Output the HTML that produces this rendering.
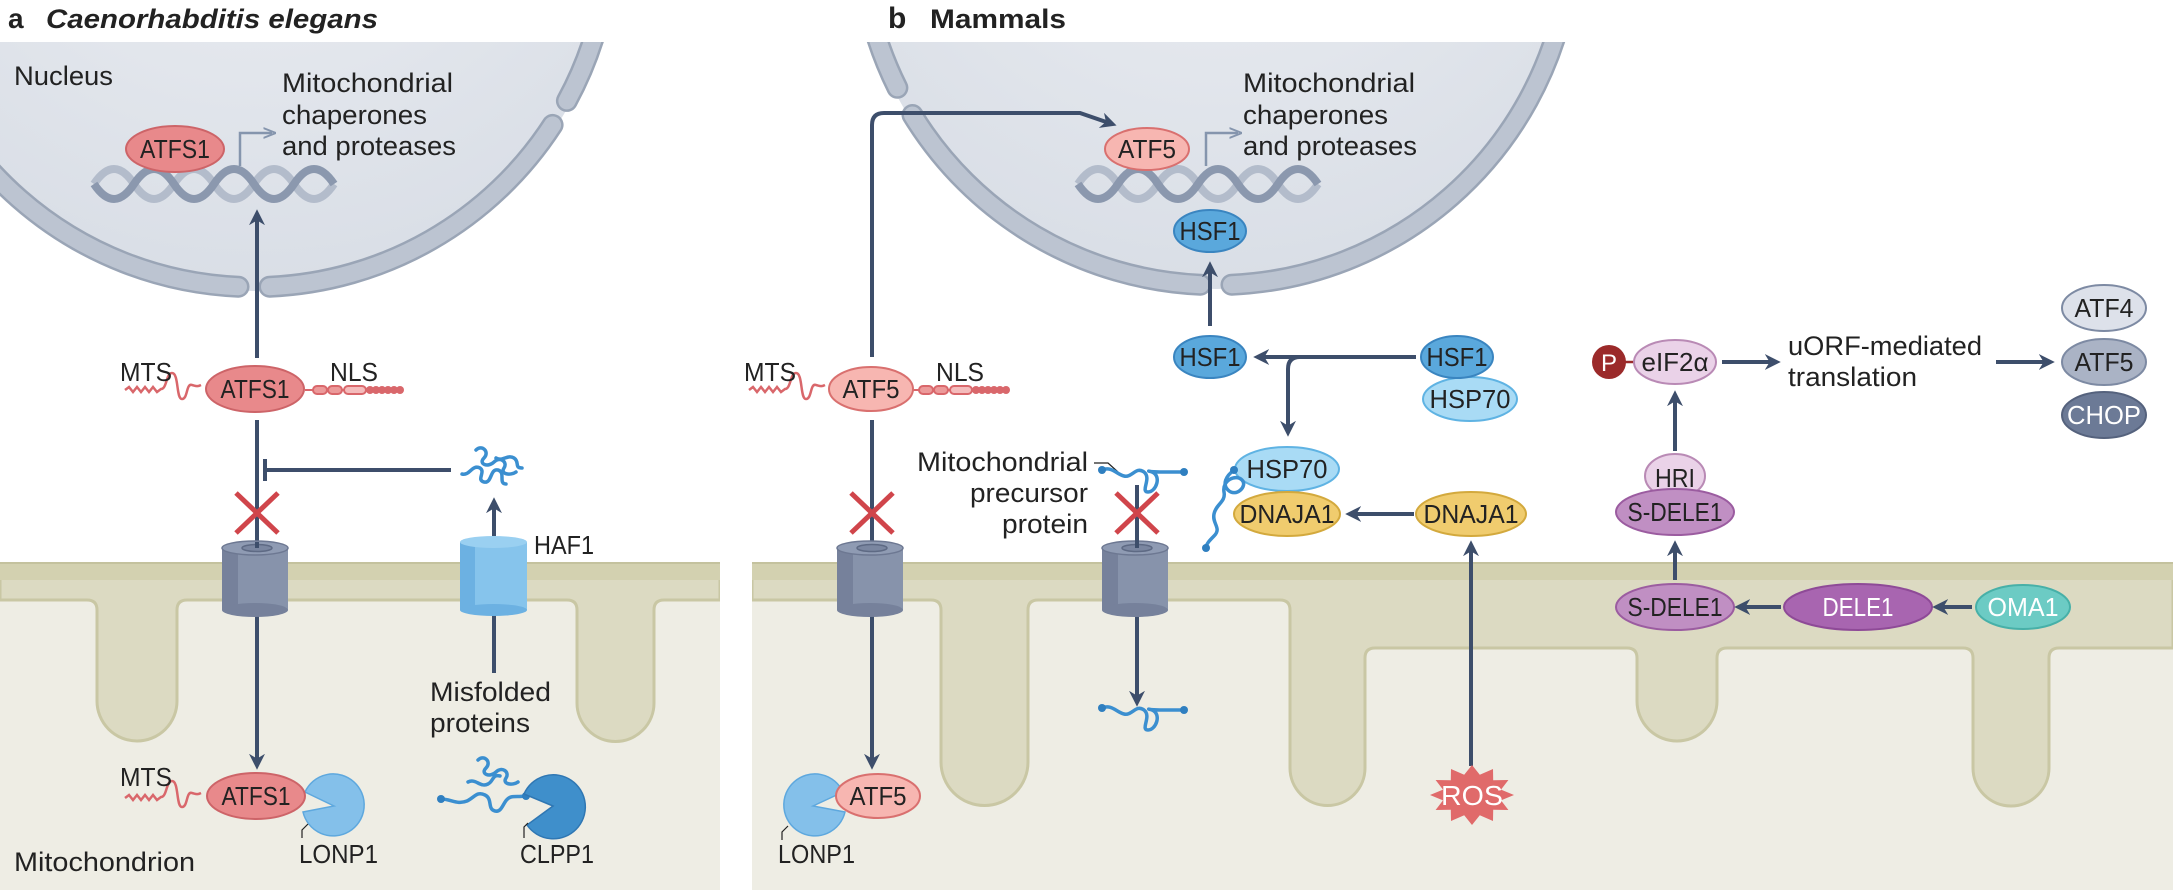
<!DOCTYPE html>
<html><head><meta charset="utf-8"><style>
html,body{margin:0;padding:0;background:#fff}
svg{display:block}
text{font-family:"Liberation Sans",sans-serif;fill:#222}
.l{font-size:27px}
.e{font-size:26px}
</style></head><body>
<svg width="2173" height="890" viewBox="0 0 2173 890" xmlns="http://www.w3.org/2000/svg">
<defs>
<marker id="ah" viewBox="0 0 10 10" refX="7" refY="5" markerWidth="4" markerHeight="4" orient="auto" markerUnits="strokeWidth"><path d="M0,0 L10,5 L0,10 L3,5z" fill="#3d4e6b"/></marker>
<marker id="ag" viewBox="0 0 10 10" refX="7" refY="5" markerWidth="5" markerHeight="5" orient="auto" markerUnits="strokeWidth"><path d="M0,1 L10,5 L0,9" fill="none" stroke="#8595ad" stroke-width="1.6"/></marker>
<clipPath id="ca"><rect x="0" y="42" width="720" height="848"/></clipPath>
<clipPath id="cb"><rect x="752" y="42" width="1421" height="848"/></clipPath>
<radialGradient id="ng" cx="0.5" cy="0.3" r="0.7"><stop offset="0" stop-color="#eef0f4"/><stop offset="1" stop-color="#d9dee6"/></radialGradient>
</defs>

<text x="8" y="28" style="font-size:28px;font-weight:bold">a</text>
<text x="46" y="28" style="font-size:27px;font-weight:bold;font-style:italic" textLength="332" lengthAdjust="spacingAndGlyphs">Caenorhabditis elegans</text>
<text x="888" y="28" style="font-size:30px;font-weight:bold">b</text>
<text x="930" y="28" style="font-size:27px;font-weight:bold" textLength="136" lengthAdjust="spacingAndGlyphs">Mammals</text>

<!-- ===== PANEL A ===== -->
<g clip-path="url(#ca)">
<circle cx="254" cy="-69" r="360" fill="url(#ng)"/>
<g fill="none" stroke-linecap="round">
<path d="M238.5,286.7 A356,356 0 0 1 -96.6,-7.2 M269.5,286.7 A356,356 0 0 0 552.6,124.9 M566.9,100.9 A356,356 0 0 0 604.6,-7.2" stroke="#9aa5b6" stroke-width="22"/>
<path d="M238.5,286.7 A356,356 0 0 1 -96.6,-7.2 M269.5,286.7 A356,356 0 0 0 552.6,124.9 M566.9,100.9 A356,356 0 0 0 604.6,-7.2" stroke="#bcc4d1" stroke-width="17"/>
</g>
<rect x="0" y="562" width="720" height="328" fill="#eeede4"/>
<path d="M0,578 H720 V600 H664 Q654,600 654,610 V703 A38.5,38.5 0 0 1 577,703 V610 Q577,600 567,600 H187 Q177,600 177,610 V701 A40,40 0 0 1 97,701 V610 Q97,600 87,600 H0 Z" fill="#dcdac2" stroke="#c9c7a4" stroke-width="3"/>
<rect x="0" y="562" width="720" height="18" fill="#d3d1b0"/>
<line x1="0" y1="563" x2="720" y2="563" stroke="#c4c29e" stroke-width="2"/>
</g>

<g fill="none" stroke-width="8">
<path d="M94,184 Q114,154 134,184 T174,184 T214,184 T254,184 T294,184 T334,184" stroke="#b3bccb"/>
<path d="M94,184 Q114,214 134,184 T174,184 T214,184 T254,184 T294,184 T334,184" stroke="#8b98ae"/>
</g>
<path d="M240,166 V133 H272" fill="none" stroke="#8595ad" stroke-width="2.5" marker-end="url(#ag)"/>
<ellipse cx="175" cy="149" rx="49" ry="23" fill="#e8898b" stroke="#cd6468" stroke-width="2"/>
<text class="e" x="175" y="158" text-anchor="middle" textLength="70" lengthAdjust="spacingAndGlyphs">ATFS1</text>
<text class="l" x="14" y="85" textLength="99" lengthAdjust="spacingAndGlyphs">Nucleus</text>
<text class="l" x="282" y="92" textLength="171" lengthAdjust="spacingAndGlyphs">Mitochondrial</text>
<text class="l" x="282" y="124" textLength="145" lengthAdjust="spacingAndGlyphs">chaperones</text>
<text class="l" x="282" y="155" textLength="174" lengthAdjust="spacingAndGlyphs">and proteases</text>

<line x1="257" y1="358" x2="257" y2="214" stroke="#3d4e6b" stroke-width="4" marker-end="url(#ah)"/>
<line x1="257" y1="420" x2="257" y2="765" stroke="#3d4e6b" stroke-width="4" marker-end="url(#ah)"/>
<line x1="266" y1="470" x2="451" y2="470" stroke="#3d4e6b" stroke-width="4"/>
<line x1="265" y1="459" x2="265" y2="481" stroke="#3d4e6b" stroke-width="4"/>

<path d="M125,390 l4,-3 l4,5 l4,-5 l4,5 l4,-5 l4,5 l4,-5 l4,5 l4,-3 c6,0 5,-16 11,-16 c7,0 4,26 10,26 c6,0 4,-16 10,-14 c4,1 5,2 9,0" fill="none" stroke="#d9676b" stroke-width="2.5"/>
<g stroke="#d9676b" stroke-width="2" fill="#ec9a9a">
<line x1="305" y1="390" x2="402" y2="390"/>
<rect x="313" y="386" width="14" height="8" rx="4"/><rect x="328" y="386" width="14" height="8" rx="4"/><rect x="344" y="386" width="22" height="8" rx="4" fill="#f4bcbc"/>
</g>
<g fill="#d9676b"><circle cx="370" cy="390" r="4"/><circle cx="376" cy="390" r="4"/><circle cx="382" cy="390" r="4"/><circle cx="388" cy="390" r="4"/><circle cx="394" cy="390" r="4"/><circle cx="400" cy="390" r="4"/></g>
<ellipse cx="255" cy="389" rx="49" ry="23" fill="#e8898b" stroke="#cd6468" stroke-width="2"/>
<text class="e" x="255" y="398" text-anchor="middle" textLength="69" lengthAdjust="spacingAndGlyphs">ATFS1</text>
<text class="e" x="120" y="381" textLength="52" lengthAdjust="spacingAndGlyphs">MTS</text>
<text class="e" x="330" y="381" textLength="48" lengthAdjust="spacingAndGlyphs">NLS</text>

<g stroke="#d0454b" stroke-width="5"><line x1="236" y1="493" x2="278" y2="533"/><line x1="278" y1="493" x2="236" y2="533"/></g>

<rect x="222" y="548" width="66" height="62" fill="#8793ab"/>
<rect x="222" y="548" width="16" height="62" fill="#76819b"/>
<ellipse cx="255" cy="610" rx="33" ry="7" fill="#76819b"/>
<ellipse cx="255" cy="548" rx="33" ry="7" fill="#8f9bb3" stroke="#6d7892" stroke-width="1.5"/>
<ellipse cx="257" cy="548" rx="15" ry="3.5" fill="#7a86a0" stroke="#5e6a84" stroke-width="1.5"/>
<line x1="257" y1="548" x2="257" y2="542" stroke="#3d4e6b" stroke-width="4"/>

<line x1="494" y1="536" x2="494" y2="502" stroke="#3d4e6b" stroke-width="4" marker-end="url(#ah)"/>
<line x1="494" y1="612" x2="494" y2="673" stroke="#3d4e6b" stroke-width="4"/>
<rect x="460" y="542" width="67" height="68" fill="#86c4ec"/>
<rect x="460" y="542" width="15" height="68" fill="#6cb1e2"/>
<ellipse cx="493.5" cy="610" rx="33.5" ry="6" fill="#6cb1e2"/>
<ellipse cx="493.5" cy="542" rx="33.5" ry="6" fill="#9ad0f1"/>
<text class="e" x="534" y="554" textLength="60" lengthAdjust="spacingAndGlyphs">HAF1</text>
<g fill="none" stroke="#3b8fd0" stroke-width="3.5" stroke-linecap="round">
<path d="M462,474 c8,2 10,-10 18,-6 c6,4 -4,12 4,14 c8,2 6,-14 14,-12 c8,2 0,14 8,14"/>
<path d="M476,450 c6,-6 14,2 8,8 c-6,6 4,10 10,4 c6,-6 14,0 10,6 c-4,6 6,8 12,4"/>
<path d="M496,458 c6,4 12,-4 18,0 c6,4 0,10 8,10"/>
</g>
<text class="l" x="430" y="701" textLength="121" lengthAdjust="spacingAndGlyphs">Misfolded</text>
<text class="l" x="430" y="732" textLength="100" lengthAdjust="spacingAndGlyphs">proteins</text>
<g fill="none" stroke="#3b8fd0" stroke-width="3.5" stroke-linecap="round">
<path d="M441,799 c10,0 16,6 26,2 c8,-4 10,-10 18,-6 c8,4 2,14 10,16 c8,2 8,-12 16,-14 c4,-1 8,0 14,-1"/>
<path d="M478,760 c6,-6 14,2 8,8 c-6,6 4,10 10,4 c6,-6 14,0 10,6 c-4,6 6,8 12,4"/>
<path d="M468,782 c8,-4 12,6 20,2 c6,-3 4,-10 12,-8"/>
</g>
<circle cx="441" cy="799" r="4" fill="#2f7fc0"/><circle cx="526" cy="796" r="4" fill="#2f7fc0"/>
<path d="M553,806 L524,794 A32,32 0 1 1 527,825 Z" fill="#3f8fcb" stroke="#2f77b3" stroke-width="1.5"/>
<text class="e" x="520" y="863" textLength="74" lengthAdjust="spacingAndGlyphs">CLPP1</text>
<path d="M528,823 L524,827 V838" fill="none" stroke="#222" stroke-width="1.2"/>

<path d="M125,798 l4,-3 l4,5 l4,-5 l4,5 l4,-5 l4,5 l4,-5 l4,5 l4,-3 c6,0 5,-16 11,-16 c7,0 4,26 10,26 c6,0 4,-16 10,-14 c4,1 5,2 9,0" fill="none" stroke="#d9676b" stroke-width="2.5"/>
<path d="M334,806 L305,792 A31,31 0 1 1 303,812 Z" fill="#84c0ea" stroke="#5ea8de" stroke-width="1.5"/>
<ellipse cx="256" cy="796" rx="49" ry="23" fill="#e8898b" stroke="#cd6468" stroke-width="2"/>
<text class="e" x="256" y="805" text-anchor="middle" textLength="69" lengthAdjust="spacingAndGlyphs">ATFS1</text>
<text class="e" x="120" y="786" textLength="52" lengthAdjust="spacingAndGlyphs">MTS</text>
<path d="M308,824 L302,830 V838" fill="none" stroke="#222" stroke-width="1.2"/>
<text class="e" x="299" y="863" textLength="79" lengthAdjust="spacingAndGlyphs">LONP1</text>
<text class="l" x="14" y="871" textLength="181" lengthAdjust="spacingAndGlyphs">Mitochondrion</text>

<!-- ===== PANEL B ===== -->
<g clip-path="url(#cb)">
<circle cx="1216" cy="-71" r="360" fill="url(#ng)"/>
<g fill="none" stroke-linecap="round">
<path d="M1200.5,284.7 A356,356 0 0 1 912.5,115 M897.4,87.8 A356,356 0 0 1 865.4,-9.2 M1231.5,284.7 A356,356 0 0 0 1566.6,-9.2" stroke="#9aa5b6" stroke-width="22"/>
<path d="M1200.5,284.7 A356,356 0 0 1 912.5,115 M897.4,87.8 A356,356 0 0 1 865.4,-9.2 M1231.5,284.7 A356,356 0 0 0 1566.6,-9.2" stroke="#bcc4d1" stroke-width="17"/>
</g>
<rect x="752" y="562" width="1421" height="328" fill="#eeede4"/>
<path d="M752,578 H2173 V648 H2059 Q2049,648 2049,658 V768 A38,38 0 0 1 1973,768 V658 Q1973,648 1963,648 H1727 Q1717,648 1717,658 V701 A40,40 0 0 1 1637,701 V658 Q1637,648 1627,648 H1375 Q1365,648 1365,658 V768 A37.5,37.5 0 0 1 1290,768 V610 Q1290,600 1280,600 H1038 Q1028,600 1028,610 V762 A43.5,43.5 0 0 1 941,762 V610 Q941,600 931,600 H752 Z" fill="#dcdac2" stroke="#c9c7a4" stroke-width="3"/>
<rect x="752" y="562" width="1421" height="18" fill="#d3d1b0"/>
<line x1="752" y1="563" x2="2173" y2="563" stroke="#c4c29e" stroke-width="2"/>
</g>

<g fill="none" stroke-width="8">
<path d="M1078,184 Q1098,154 1118,184 T1158,184 T1198,184 T1238,184 T1278,184 T1318,184" stroke="#b3bccb"/>
<path d="M1078,184 Q1098,214 1118,184 T1158,184 T1198,184 T1238,184 T1278,184 T1318,184" stroke="#8b98ae"/>
</g>
<path d="M1206,166 V133 H1238" fill="none" stroke="#8595ad" stroke-width="2.5" marker-end="url(#ag)"/>
<path d="M872,357 V125 Q872,113 884,113 H1080 L1112,124" fill="none" stroke="#3d4e6b" stroke-width="4" marker-end="url(#ah)"/>
<ellipse cx="1147" cy="149" rx="42" ry="21" fill="#f7b6b1" stroke="#d9706f" stroke-width="2"/>
<text class="e" x="1147" y="158" text-anchor="middle" textLength="58" lengthAdjust="spacingAndGlyphs">ATF5</text>
<text class="l" x="1243" y="92" textLength="172" lengthAdjust="spacingAndGlyphs">Mitochondrial</text>
<text class="l" x="1243" y="124" textLength="145" lengthAdjust="spacingAndGlyphs">chaperones</text>
<text class="l" x="1243" y="155" textLength="174" lengthAdjust="spacingAndGlyphs">and proteases</text>

<line x1="1210" y1="326" x2="1210" y2="266" stroke="#3d4e6b" stroke-width="4" marker-end="url(#ah)"/>
<ellipse cx="1210" cy="231" rx="36" ry="21" fill="#5aa8dc" stroke="#3a85c0" stroke-width="2"/>
<text class="e" x="1210" y="240" text-anchor="middle" textLength="61" lengthAdjust="spacingAndGlyphs">HSF1</text>
<line x1="1416" y1="357" x2="1258" y2="357" stroke="#3d4e6b" stroke-width="4" marker-end="url(#ah)"/>
<path d="M1300,357 Q1288,357 1288,369 V432" fill="none" stroke="#3d4e6b" stroke-width="4" marker-end="url(#ah)"/>
<ellipse cx="1210" cy="357" rx="36" ry="21" fill="#5aa8dc" stroke="#3a85c0" stroke-width="2"/>
<text class="e" x="1210" y="366" text-anchor="middle" textLength="61" lengthAdjust="spacingAndGlyphs">HSF1</text>
<ellipse cx="1470" cy="399" rx="47" ry="22" fill="#a9dbf5" stroke="#5fb3e3" stroke-width="2"/>
<text class="e" x="1470" y="408" text-anchor="middle" textLength="81" lengthAdjust="spacingAndGlyphs">HSP70</text>
<ellipse cx="1457" cy="357" rx="36" ry="21" fill="#5aa8dc" stroke="#3a85c0" stroke-width="2"/>
<text class="e" x="1457" y="366" text-anchor="middle" textLength="61" lengthAdjust="spacingAndGlyphs">HSF1</text>

<ellipse cx="1287" cy="469" rx="52" ry="22" fill="#a9dbf5" stroke="#5fb3e3" stroke-width="2"/>
<text class="e" x="1287" y="478" text-anchor="middle" textLength="81" lengthAdjust="spacingAndGlyphs">HSP70</text>
<ellipse cx="1287" cy="514" rx="53" ry="22" fill="#f0cc6e" stroke="#d3a93d" stroke-width="2"/>
<text class="e" x="1287" y="523" text-anchor="middle" textLength="95" lengthAdjust="spacingAndGlyphs">DNAJA1</text>
<path d="M1234,470 c-8,6 -12,14 -6,20 c8,8 20,-4 14,-10 c-6,-6 -20,0 -18,12 c2,10 -8,12 -10,22 c-2,10 8,14 0,22 c-4,4 -8,8 -8,12" fill="none" stroke="#3b8fd0" stroke-width="3.5" stroke-linecap="round"/>
<circle cx="1234" cy="470" r="4" fill="#2f7fc0"/><circle cx="1206" cy="548" r="4" fill="#2f7fc0"/>
<line x1="1414" y1="514" x2="1350" y2="514" stroke="#3d4e6b" stroke-width="4" marker-end="url(#ah)"/>
<ellipse cx="1471" cy="514" rx="55" ry="22" fill="#f0cc6e" stroke="#d3a93d" stroke-width="2"/>
<text class="e" x="1471" y="523" text-anchor="middle" textLength="95" lengthAdjust="spacingAndGlyphs">DNAJA1</text>
<line x1="1471" y1="766" x2="1471" y2="545" stroke="#3d4e6b" stroke-width="4" marker-end="url(#ah)"/>
<polygon points="1514,795 1501,800.4 1508.4,810 1493.2,809.8 1493,821 1479.8,815.3 1472,825 1464.2,815.3 1451,821 1450.8,809.8 1435.6,810 1443,800.4 1430,795 1443,789.6 1435.6,780 1450.8,780.2 1451,769 1464.2,774.7 1472,765 1479.8,774.7 1493,769 1493.2,780.2 1508.4,780 1501,789.6" fill="#e06a6a"/>
<text x="1472" y="805" text-anchor="middle" style="font-size:28px;fill:#fff" textLength="62" lengthAdjust="spacingAndGlyphs">ROS</text>

<line x1="872" y1="420" x2="872" y2="765" stroke="#3d4e6b" stroke-width="4" marker-end="url(#ah)"/>
<path d="M749,390 l4,-3 l4,5 l4,-5 l4,5 l4,-5 l4,5 l4,-5 l4,5 l4,-3 c6,0 5,-16 11,-16 c7,0 4,26 10,26 c6,0 4,-16 10,-14 c4,1 5,2 9,0" fill="none" stroke="#d9676b" stroke-width="2.5"/>
<g stroke="#d9676b" stroke-width="2" fill="#ec9a9a">
<line x1="912" y1="390" x2="1008" y2="390"/>
<rect x="919" y="386" width="14" height="8" rx="4"/><rect x="934" y="386" width="14" height="8" rx="4"/><rect x="950" y="386" width="22" height="8" rx="4" fill="#f4bcbc"/>
</g>
<g fill="#d9676b"><circle cx="976" cy="390" r="4"/><circle cx="982" cy="390" r="4"/><circle cx="988" cy="390" r="4"/><circle cx="994" cy="390" r="4"/><circle cx="1000" cy="390" r="4"/><circle cx="1006" cy="390" r="4"/></g>
<ellipse cx="871" cy="389" rx="42" ry="22" fill="#f7b6b1" stroke="#d9706f" stroke-width="2"/>
<text class="e" x="871" y="398" text-anchor="middle" textLength="57" lengthAdjust="spacingAndGlyphs">ATF5</text>
<text class="e" x="744" y="381" textLength="52" lengthAdjust="spacingAndGlyphs">MTS</text>
<text class="e" x="936" y="381" textLength="48" lengthAdjust="spacingAndGlyphs">NLS</text>
<g stroke="#d0454b" stroke-width="5"><line x1="851" y1="493" x2="893" y2="533"/><line x1="893" y1="493" x2="851" y2="533"/></g>
<rect x="837" y="548" width="66" height="62" fill="#8793ab"/>
<rect x="837" y="548" width="16" height="62" fill="#76819b"/>
<ellipse cx="870" cy="610" rx="33" ry="7" fill="#76819b"/>
<ellipse cx="870" cy="548" rx="33" ry="7" fill="#8f9bb3" stroke="#6d7892" stroke-width="1.5"/>
<ellipse cx="872" cy="548" rx="15" ry="3.5" fill="#7a86a0" stroke="#5e6a84" stroke-width="1.5"/>
<path d="M813,806 L843,792 A31,31 0 1 0 845,812 Z" fill="#84c0ea" stroke="#5ea8de" stroke-width="1.5"/>
<ellipse cx="878" cy="796" rx="42" ry="22" fill="#f7b6b1" stroke="#d9706f" stroke-width="2"/>
<text class="e" x="878" y="805" text-anchor="middle" textLength="57" lengthAdjust="spacingAndGlyphs">ATF5</text>
<path d="M788,826 L782,832 V840" fill="none" stroke="#222" stroke-width="1.2"/>
<text class="e" x="778" y="863" textLength="77" lengthAdjust="spacingAndGlyphs">LONP1</text>

<text class="l" x="1088" y="471" text-anchor="end" textLength="171" lengthAdjust="spacingAndGlyphs">Mitochondrial</text>
<text class="l" x="1088" y="502" text-anchor="end" textLength="118" lengthAdjust="spacingAndGlyphs">precursor</text>
<text class="l" x="1088" y="533" text-anchor="end" textLength="86" lengthAdjust="spacingAndGlyphs">protein</text>
<path d="M1094,463 H1108 L1118,472" fill="none" stroke="#222" stroke-width="1.2"/>
<line x1="1137" y1="485" x2="1137" y2="702" stroke="#3d4e6b" stroke-width="4" marker-end="url(#ah)"/>
<g stroke="#d0454b" stroke-width="5"><line x1="1116" y1="493" x2="1158" y2="533"/><line x1="1158" y1="493" x2="1116" y2="533"/></g>
<rect x="1102" y="548" width="66" height="62" fill="#8793ab"/>
<rect x="1102" y="548" width="16" height="62" fill="#76819b"/>
<ellipse cx="1135" cy="610" rx="33" ry="7" fill="#76819b"/>
<ellipse cx="1135" cy="548" rx="33" ry="7" fill="#8f9bb3" stroke="#6d7892" stroke-width="1.5"/>
<ellipse cx="1137" cy="548" rx="15" ry="3.5" fill="#7a86a0" stroke="#5e6a84" stroke-width="1.5"/>
<line x1="1137" y1="548" x2="1137" y2="540" stroke="#3d4e6b" stroke-width="4"/>
<g fill="none" stroke="#3b8fd0" stroke-width="3.5" stroke-linecap="round">
<path d="M1102,470 c10,-4 14,4 22,6 c8,2 12,-10 20,-4 c8,6 -4,20 4,20 c8,0 14,-16 4,-20 c-6,-2 -4,0 8,0 h20"/>
<path d="M1102,708 c10,-4 14,4 22,6 c8,2 12,-10 20,-4 c8,6 -4,20 4,20 c8,0 14,-16 4,-20 c-6,-2 -4,0 8,0 h20"/>
</g>
<circle cx="1102" cy="470" r="4" fill="#2f7fc0"/><circle cx="1184" cy="472" r="4" fill="#2f7fc0"/>
<circle cx="1102" cy="708" r="4" fill="#2f7fc0"/><circle cx="1184" cy="710" r="4" fill="#2f7fc0"/>

<!-- right side -->
<line x1="1624" y1="362" x2="1636" y2="362" stroke="#9b2a2a" stroke-width="2.5"/>
<circle cx="1609" cy="362" r="17" fill="#9b2a2a"/>
<text x="1609" y="371" text-anchor="middle" style="font-size:24px;fill:#fff">P</text>
<ellipse cx="1675" cy="362" rx="41" ry="22" fill="#ead2e8" stroke="#b98ab5" stroke-width="2"/>
<text class="e" x="1675" y="371" text-anchor="middle" textLength="67" lengthAdjust="spacingAndGlyphs">eIF2α</text>
<line x1="1722" y1="362" x2="1776" y2="362" stroke="#3d4e6b" stroke-width="4" marker-end="url(#ah)"/>
<text class="l" x="1788" y="355" textLength="194" lengthAdjust="spacingAndGlyphs">uORF-mediated</text>
<text class="l" x="1788" y="386" textLength="129" lengthAdjust="spacingAndGlyphs">translation</text>
<line x1="1996" y1="362" x2="2050" y2="362" stroke="#3d4e6b" stroke-width="4" marker-end="url(#ah)"/>
<ellipse cx="2104" cy="308" rx="42" ry="23" fill="#dde1ea" stroke="#7d8aa3" stroke-width="2"/>
<text class="e" x="2104" y="317" text-anchor="middle" textLength="59" lengthAdjust="spacingAndGlyphs">ATF4</text>
<ellipse cx="2104" cy="362" rx="42" ry="23" fill="#aab3c5" stroke="#7d8aa3" stroke-width="2"/>
<text class="e" x="2104" y="371" text-anchor="middle" textLength="59" lengthAdjust="spacingAndGlyphs">ATF5</text>
<ellipse cx="2104" cy="415" rx="42" ry="23" fill="#6c7a96" stroke="#55627d" stroke-width="2"/>
<text x="2104" y="424" text-anchor="middle" style="font-size:26px;fill:#fff" textLength="74" lengthAdjust="spacingAndGlyphs">CHOP</text>

<line x1="1675" y1="451" x2="1675" y2="395" stroke="#3d4e6b" stroke-width="4" marker-end="url(#ah)"/>
<ellipse cx="1675" cy="476" rx="30" ry="22" fill="#ead2e8" stroke="#b98ab5" stroke-width="2"/>
<text class="e" x="1675" y="487" text-anchor="middle" textLength="40" lengthAdjust="spacingAndGlyphs">HRI</text>
<ellipse cx="1675" cy="512" rx="59" ry="23" fill="#c08fc3" stroke="#9b5ca0" stroke-width="2"/>
<text class="e" x="1675" y="521" text-anchor="middle" textLength="95" lengthAdjust="spacingAndGlyphs">S-DELE1</text>
<line x1="1675" y1="580" x2="1675" y2="545" stroke="#3d4e6b" stroke-width="4" marker-end="url(#ah)"/>
<ellipse cx="1675" cy="607" rx="59" ry="23" fill="#c08fc3" stroke="#9b5ca0" stroke-width="2"/>
<text class="e" x="1675" y="616" text-anchor="middle" textLength="95" lengthAdjust="spacingAndGlyphs">S-DELE1</text>
<line x1="1781" y1="607" x2="1739" y2="607" stroke="#3d4e6b" stroke-width="4" marker-end="url(#ah)"/>
<ellipse cx="1858" cy="607" rx="74" ry="23" fill="#a865b0" stroke="#8e4a97" stroke-width="2"/>
<text x="1858" y="616" text-anchor="middle" style="font-size:26px;fill:#fff" textLength="71" lengthAdjust="spacingAndGlyphs">DELE1</text>
<line x1="1972" y1="607" x2="1937" y2="607" stroke="#3d4e6b" stroke-width="4" marker-end="url(#ah)"/>
<ellipse cx="2023" cy="607" rx="47" ry="22" fill="#6ccbc4" stroke="#47b0a8" stroke-width="2"/>
<text x="2023" y="616" text-anchor="middle" style="font-size:26px;fill:#fff" textLength="71" lengthAdjust="spacingAndGlyphs">OMA1</text>
</svg>
</body></html>
